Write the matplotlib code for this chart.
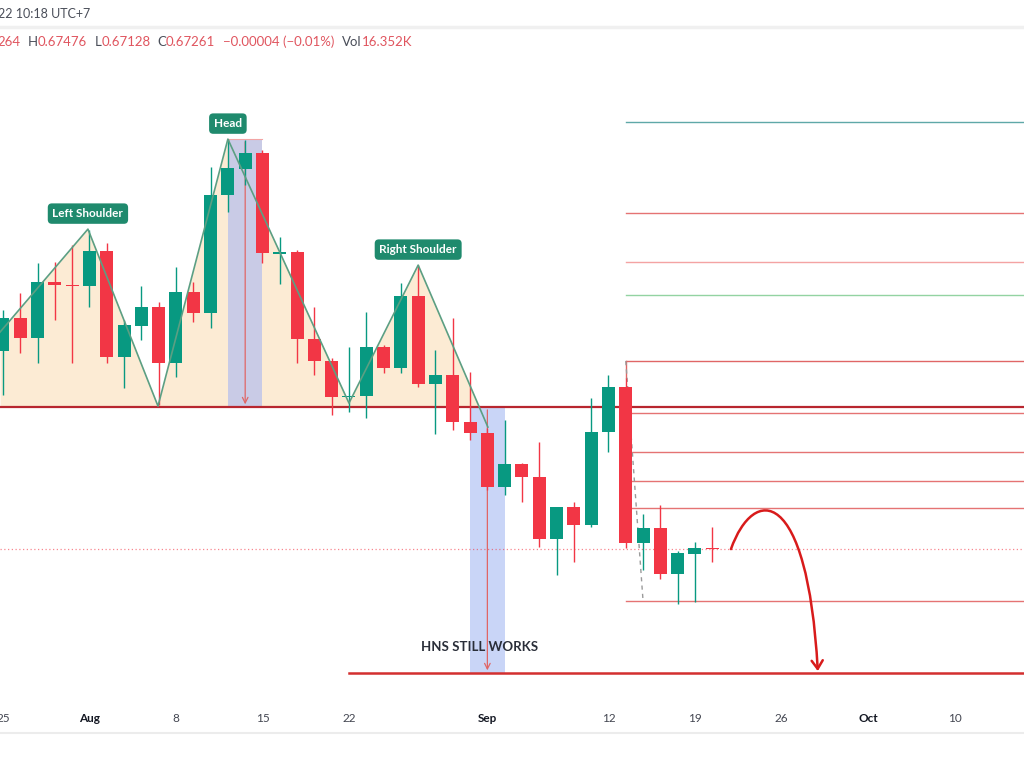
import matplotlib
matplotlib.use('Agg')
import matplotlib.pyplot as plt
import matplotlib.patches as mpatches
from matplotlib.path import Path
from matplotlib.lines import Line2D
import numpy as np
import pandas as pd

plt.rcParams['font.family'] = ['Lato', 'DejaVu Sans']

# daily candles, AUDUSD
dates = pd.bdate_range('2022-07-25', periods=42)
opens = [0.6924, 0.6957, 0.6937, 0.6993, 0.6990, 0.6989, 0.7024, 0.6918, 0.6949, 0.6968,
         0.6912, 0.6983, 0.6962, 0.7080, 0.7106, 0.7122, 0.7021, 0.7023, 0.6936, 0.6914,
         0.6878, 0.6879, 0.6928, 0.6907, 0.6979, 0.6891, 0.6900, 0.6853, 0.6842, 0.6788,
         0.6811, 0.6798, 0.6736, 0.6768, 0.6750, 0.6843, 0.6888, 0.6732, 0.6747, 0.6701,
         0.6721, 0.67264]
highs = [0.6965, 0.6982, 0.7012, 0.7013, 0.7030, 0.7045, 0.7032, 0.6955, 0.6989, 0.6973,
         0.7008, 0.6993, 0.7108, 0.7136, 0.7135, 0.7125, 0.7038, 0.7025, 0.6968, 0.6917,
         0.6928, 0.6963, 0.6930, 0.6992, 0.7010, 0.6925, 0.6957, 0.6903, 0.6847, 0.6855,
         0.6812, 0.6833, 0.6768, 0.6773, 0.6877, 0.6900, 0.6897, 0.6761, 0.6770, 0.6724,
         0.6733, 0.67476]
lows = [0.6880, 0.6922, 0.6912, 0.6955, 0.6912, 0.6968, 0.6912, 0.6887, 0.6935, 0.6870,
        0.6898, 0.6953, 0.6947, 0.7063, 0.7090, 0.7012, 0.6991, 0.6912, 0.6900, 0.6860,
        0.6863, 0.6857, 0.6902, 0.6902, 0.6888, 0.6841, 0.6845, 0.6835, 0.6785, 0.6780,
        0.6773, 0.6728, 0.6700, 0.6713, 0.6748, 0.6823, 0.6727, 0.6705, 0.6696, 0.6671,
        0.6673, 0.67128]
closes = [0.6957, 0.6937, 0.6993, 0.6990, 0.6989, 0.7024, 0.6918, 0.6950, 0.6968, 0.6912,
          0.6983, 0.6962, 0.7080, 0.7107, 0.7122, 0.7022, 0.7023, 0.6936, 0.6914, 0.6878,
          0.6879, 0.6928, 0.6907, 0.6979, 0.6891, 0.6900, 0.6853, 0.6842, 0.6788, 0.6811,
          0.6798, 0.6736, 0.6768, 0.6750, 0.6843, 0.6888, 0.6732, 0.6747, 0.6701, 0.6722,
          0.6727, 0.67261]

# head & shoulders zigzag (bar index, price)
hs_x = [-0.17, 4.91, 8.96, 13.0, 20.0, 24.0, 28.03]
hs_y = [0.6943, 0.7046, 0.6869, 0.7136, 0.6872, 0.7010, 0.6848]
hs_labels = ['Left Shoulder', 'Head', 'Right Shoulder']
hs_label_idx = [1, 3, 5]
neckline = 0.6868
target = 0.6602
last_price = 0.67261

# fib levels drawn from the Sep 13 candle
fib_levels = [0.7153, 0.7062, 0.7013, 0.6980, 0.6914, 0.6862, 0.6823, 0.6794, 0.6767, 0.6674]
fib_colors = ['#5fa8a8', '#e57373', '#f4a3a3', '#93d3a2', '#e06666', '#e57373',
              '#e57373', '#e57373', '#e57373', '#e57373']
fib_start = 36

# projected move (bar index, price)
proj_x = [42.08, 43.4, 46.5, 47.1]
proj_y = [0.6726, 0.6790, 0.6790, 0.6604]

# x axis labels
tick_dates = ['2022-07-25', '2022-08-01', '2022-08-08', '2022-08-15', '2022-08-22',
              '2022-09-01', '2022-09-12', '2022-09-19', '2022-09-26', '2022-10-03', '2022-10-10']
tick_labels = ['25', 'Aug', '8', '15', '22', 'Sep', '12', '19', '26', 'Oct', '10']

axis_days = pd.bdate_range('2022-07-25', '2022-10-31')
tick_pos = [axis_days.get_loc(pd.Timestamp(d)) for d in tick_dates]

GREEN = '#089981'
RED = '#f23645'

fig = plt.figure(figsize=(10.24, 7.68), dpi=100)
ax = fig.add_axes([0, 1 - 705 / 768, 1, 677 / 768])
ax.set_xlim(-0.173, 59.02)
ax.set_ylim(0.65701, 0.72471)
for s in ax.spines.values():
    s.set_visible(False)
ax.set_yticks([])

# candles
for i in range(len(dates)):
    o, h, l, c = opens[i], highs[i], lows[i], closes[i]
    col = GREEN if c >= o else RED
    ax.vlines(i, l, h, color=col, lw=1, zorder=4)
    ax.bar(i, max(abs(c - o), 0.00012), bottom=min(o, c), width=0.75, color=col, zorder=5)

# pattern fill and zigzag
xs = np.array(hs_x)
ys = np.array(hs_y)
ax.fill_between(xs, ys, neckline, where=ys >= neckline - 0.001, interpolate=True,
                color='#fcebd4', zorder=1, lw=0)
ax.plot(xs, ys, color='#5c9f83', lw=1.2, zorder=6)
for name, k in zip(hs_labels, hs_label_idx):
    ax.text(hs_x[k], hs_y[k] + 0.0010, name, color='white', fontsize=8.5, fontweight='bold',
            ha='center', va='bottom', zorder=8,
            bbox=dict(boxstyle='round,pad=0.4,rounding_size=0.35', fc='#1f8a6d', ec='none'))

# measured moves
head_h = hs_y[3] - neckline
ax.add_patch(mpatches.Rectangle((13.0, neckline), 2.0, head_h, fc='#c9cbe6', ec='none', zorder=2))
ax.plot([13.0, 15.0], [hs_y[3], hs_y[3]], color='#f2a5a5', lw=0.8, zorder=3)
ax.annotate('', xy=(14.0, neckline), xytext=(14.0, hs_y[3]),
            arrowprops=dict(arrowstyle='->', color='#e06666', lw=0.9), zorder=3)
ax.add_patch(mpatches.Rectangle((27.0, target), 2.0, neckline - target, fc='#c9d5f7', ec='none', zorder=2))
ax.annotate('', xy=(28.0, target), xytext=(28.0, neckline),
            arrowprops=dict(arrowstyle='->', color='#e06666', lw=0.9), zorder=3)

# horizontal levels
ax.axhline(neckline, color='#b8262f', lw=1.6, zorder=3)
ax.axhline(last_price, color=RED, lw=0.9, ls=(0, (1, 2)), alpha=0.6, zorder=3)
ax.plot([20.0, 60], [target, target], color='#d32f2f', lw=1.8, zorder=3)
for lvl, col in zip(fib_levels, fib_colors):
    ax.plot([fib_start, 60], [lvl, lvl], color=col, lw=1, zorder=3)
ax.plot([fib_start, fib_start], [fib_levels[4], highs[fib_start]], color='#e06666', lw=1, zorder=3)
ax.plot([fib_start, fib_start + 1], [fib_levels[4], fib_levels[-1]], color='#9a9a9a', lw=1,
        ls=(0, (3, 3)), zorder=3)

ax.text(27.57, target + 0.0026, 'HNS STILL WORKS', ha='center', va='center',
        fontsize=9.5, fontweight='bold', color='#2a2e39', zorder=8)

# projected path
curve = Path(list(zip(proj_x, proj_y)), [Path.MOVETO, Path.CURVE4, Path.CURVE4, Path.CURVE4])
ax.add_patch(mpatches.FancyArrowPatch(path=curve, arrowstyle='->,head_length=6,head_width=4',
                                      color='#d81b1b', lw=1.8, zorder=7))

# x axis
ax.set_xticks(tick_pos)
ax.set_xticklabels(tick_labels, fontsize=8.5, color='#434651')
for lab in ax.get_xticklabels():
    if lab.get_text() in ('Aug', 'Sep', 'Oct'):
        lab.set_fontweight('bold')
        lab.set_color('#131722')
ax.tick_params(axis='x', length=0, pad=6)

fig.add_artist(Line2D([0, 1], [1 - 733 / 768] * 2, color='#ececec', lw=1.5))
fig.add_artist(Line2D([0, 1], [1 - 27 / 768] * 2, color='#f0f0f0', lw=2.5))

# header
fig.text(-2 / 1024, 1 - 14 / 768, '22 10:18 UTC+7', color='#4a4e59', fontsize=9, va='center')

parts = [('264', '#e0555f', 8), ('H', '#4a4e59', 0), ('0.67476', '#e0555f', 7),
         ('L', '#4a4e59', 0), ('0.67128', '#e0555f', 7), ('C', '#4a4e59', 0),
         ('0.67261', '#e0555f', 8), ('\u22120.00004 (\u22120.01%)', '#e0555f', 7),
         ('Vol', '#4a4e59', 0), ('16.352K', '#e0555f', 0)]
renderer = fig.canvas.get_renderer()
xpos = -3
for s, col, gap in parts:
    t = fig.text(xpos / 1024, 1 - 42 / 768, s, color=col, fontsize=9.5, va='center', ha='left')
    xpos += t.get_window_extent(renderer).width + gap

fig.savefig('out.png', dpi=100)
